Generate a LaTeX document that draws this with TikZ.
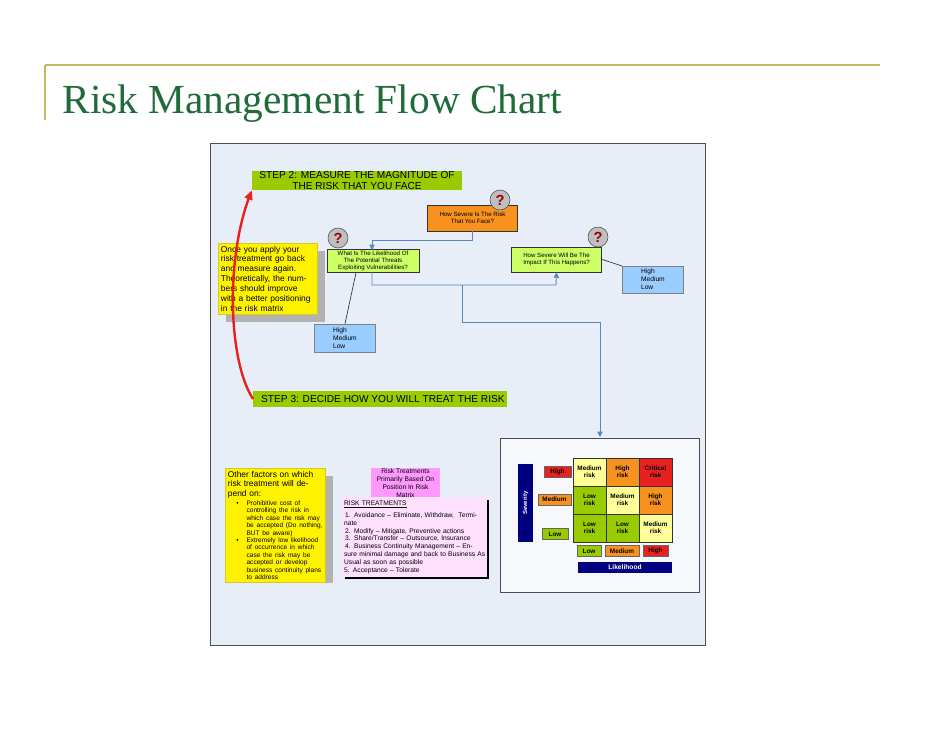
\documentclass[tikz,border=0pt]{standalone}
\usepackage{fontspec}
\setmainfont{Liberation Sans}
\newfontfamily\titlefont{Liberation Serif}
\usetikzlibrary{arrows.meta}
\definecolor{panel}{HTML}{E8EEF7}
\definecolor{lgreen}{HTML}{99CC00}
\definecolor{lgreenb}{HTML}{CCFF66}
\definecolor{orng}{HTML}{F7921E}
\definecolor{rred}{HTML}{E82020}
\definecolor{cyel}{HTML}{FFFF99}
\definecolor{lblue}{HTML}{99CCFF}
\definecolor{pinkh}{HTML}{FF99FF}
\definecolor{pinkl}{HTML}{FFE0FF}
\definecolor{navy}{HTML}{000080}
\definecolor{gold}{HTML}{C8B560}
\definecolor{tgreen}{HTML}{1F6B3A}
\definecolor{conn}{HTML}{5B85C0}
\begin{document}
\begin{tikzpicture}[x=0.75pt,y=-0.75pt,
  box/.style={draw=black!80,line width=0.6pt,inner sep=1pt,align=center,font=\fontsize{4.6}{5.4}\selectfont},
  stepbox/.style={fill=lgreen,inner sep=0pt,align=center,font=\fontsize{7.6}{8.6}\selectfont},
  qmark/.style={circle,draw=black!70,fill=black!25,minimum size=15pt,inner sep=0pt,font=\bfseries\fontsize{11}{11}\selectfont,text=red!60!black},
  hml/.style={draw=black!50,fill=lblue,align=left,anchor=north west,inner sep=1.5pt,font=\fontsize{5}{6}\selectfont},
  cell/.style={draw=black!80,line width=0.6pt,minimum width=24.75pt,minimum height=21pt,inner sep=0pt,align=center,font=\fontsize{4.8}{5.4}\selectfont},
  lab/.style={draw=black!60,minimum height=8.5pt,inner sep=0pt,font=\bfseries\fontsize{4.8}{5}\selectfont},
  cn/.style={conn,line width=0.7pt},
  ca/.style={conn,line width=0.7pt,-{Triangle[length=4pt,width=4pt]}}]
\useasboundingbox (0,0) rectangle (942,728);
\fill[white] (0,0) rectangle (942,728);
% header
\draw[gold,line width=0.8pt] (45,65) -- (880,65);
\draw[gold,line width=0.8pt] (45,65) -- (45,120);
\node[anchor=west,text=tgreen,font=\titlefont\fontsize{31}{31}\selectfont] (title) at (58,104) {Risk Management Flow Chart};
% panel
\draw[black!70,fill=panel] (210,143) rectangle (705,645);
% step boxes
\node[stepbox,minimum width=157.5pt,minimum height=14.25pt] (s2) at (357,180.5) {STEP 2: MEASURE THE MAGNITUDE OF\\THE RISK THAT YOU FACE};
\node[stepbox,minimum width=190.5pt,minimum height=12pt,anchor=west] (s3) at (253,399) {\hspace{4pt}STEP 3: DECIDE HOW YOU WILL TREAT THE RISK};
% yellow note 1
\fill[black!30] (226,251) rectangle (325,322);
\node[fill=yellow,draw=yellow!80!black,anchor=north west,minimum width=74pt,minimum height=53pt,text width=70pt,inner sep=2pt,align=left,font=\fontsize{6.3}{7.4}\selectfont] (y1) at (218,243) {Once you apply your risk treatment go back and measure again. Theoretically, the numbers should improve with a better positioning in the risk matrix};
% red arc
\draw[rred,line width=1.8pt,-{Triangle[length=7pt,width=6pt]}] (s3.west) .. controls (228,360) and (226,260) .. (s2.south west);
% question boxes
\node[box,fill=orng,minimum width=68pt,minimum height=19.5pt] (sev) at (472.5,218) {How Severe Is The Risk\\That You Face?};
\node[box,fill=lgreenb,minimum width=69pt,minimum height=16.5pt] (lik) at (373,261) {What Is The Likelihood Of\\The Potential Threats\\Exploiting Vulnerabilities?};
\node[box,fill=lgreenb,minimum width=68pt,minimum height=18.75pt] (imp) at (556.5,259.5) {How Severe Will Be The\\Impact If This Happens?};
\node[qmark] (q1) at (500,200) {?};
\node[qmark] (q2) at (338,238) {?};
\node[qmark] (q3) at (598,237) {?};
% HML
\node[hml,minimum width=46pt,minimum height=20pt] (h2) at (622,266) {High\\Medium\\Low};
\node[hml,minimum width=46pt,minimum height=21pt] (h1) at (314,324) {High\\Medium\\Low};
\draw[black!80,line width=0.5pt] (lik.south) ++(-17,0) coordinate (lb) -- (h1.north) ++(0,0);
\draw[black!80,line width=0.5pt] (imp.east) -- (h2.north west);
% connectors
\coordinate (c1) at (472,240);
\coordinate (c2) at (372,240);
\draw[ca] (sev.south) |- (c2) -- (372,250);
\coordinate (c3) at (372,285);
\draw[ca] (372,272) -- (c3) -- (556,285) -- (imp.south);
\coordinate (c4) at (462,285);
\coordinate (c5) at (600,322);
\coordinate (mtop) at (600,437);
\draw[ca] (c4) |- (c5) -- (mtop);
% matrix frame
\draw[black!70,fill=panel!40!white] (500,438) rectangle (699,592);
\node[fill=navy,minimum width=11.25pt,minimum height=58.5pt,inner sep=0pt] (sevbar) at (525.5,503) {};
\node[rotate=90,text=white,font=\bfseries\fontsize{4.5}{5}\selectfont] (sevt) at (sevbar) {Severity};
\node[fill=navy,minimum width=70.5pt,minimum height=8.25pt,inner sep=0pt,text=white,font=\bfseries\fontsize{5}{5}\selectfont] (likbar) at (625,567.5) {Likelihood};
% cells
\node[cell,fill=cyel] (m11) at (589.5,472) {\textbf{Medium}\\\textbf{risk}};
\node[cell,fill=orng] (m12) at (622.5,472) {\textbf{High}\\\textbf{risk}};
\node[cell,fill=rred] (m13) at (655.5,472) {\textbf{Critical}\\\textbf{risk}};
\node[cell,fill=lgreen] (m21) at (589.5,500) {\textbf{Low}\\\textbf{risk}};
\node[cell,fill=cyel] (m22) at (622.5,500) {\textbf{Medium}\\\textbf{risk}};
\node[cell,fill=orng] (m23) at (655.5,500) {\textbf{High}\\\textbf{risk}};
\node[cell,fill=lgreen] (m31) at (589.5,528) {\textbf{Low}\\\textbf{risk}};
\node[cell,fill=lgreen] (m32) at (622.5,528) {\textbf{Low}\\\textbf{risk}};
\node[cell,fill=cyel] (m33) at (655.5,528) {\textbf{Medium}\\\textbf{risk}};
\node[lab,fill=rred,minimum width=20pt] (rh) at (557.5,471.5) {High};
\node[lab,fill=orng,minimum width=25pt] (rm) at (554.5,499.5) {Medium};
\node[lab,fill=lgreen,minimum width=19.5pt] (rl) at (555,534) {Low};
\node[lab,fill=lgreen,minimum width=18pt] (cl) at (589,551) {Low};
\node[lab,fill=orng,minimum width=25.5pt] (cm) at (622,551) {Medium};
\node[lab,fill=rred,minimum width=19pt] (ch) at (655.5,551) {High};
% yellow note 2
\fill[black!30] (233,476) rectangle (333,583);
\node[fill=yellow,draw=yellow!80!black,anchor=north west,minimum width=75pt,minimum height=80pt,text width=71pt,inner sep=2pt,align=left,font=\fontsize{6.3}{7.2}\selectfont] (y2) at (225,468) {Other factors on which risk treatment will depend on:\\[-0.5pt]
{\fontsize{4.9}{5.6}\selectfont
\begin{minipage}[t]{71pt}\raggedright
\begin{list}{\textbullet}{\leftmargin=14pt\labelwidth=10pt\labelsep=6pt\itemsep=0pt\parsep=0pt\topsep=0pt}
\item Prohibitive cost of controlling the risk in which case the risk may be accepted (Do nothing, BUT be aware)
\item Extremely low likelihood of occurrence in which case the risk may be accepted or develop business continuity plans to address
\end{list}\end{minipage}}};
% pink
\node[fill=pinkh,minimum width=51.75pt,minimum height=22.5pt,inner sep=0pt,align=center,font=\fontsize{5}{6}\selectfont] (ph) at (405.5,483) {Risk Treatments\\Primarily Based On\\Position In Risk\\Matrix};
\fill[black] (345,500) rectangle (489,579);
\node[fill=pinkl,anchor=north west,minimum width=108.75pt,minimum height=60pt,text width=106pt,inner sep=1pt,align=left,font=\fontsize{5}{5.9}\selectfont] (pt) at (342,497) {\underline{RISK TREATMENTS}\\[3pt]
\,1. Avoidance -- Eliminate, Withdraw,\ \ Terminate\\
\,2. Modify -- Mitigate, Preventive actions\\
\,3. Share/Transfer -- Outsource, Insurance\\
\,4. Business Continuity Management -- Ensure minimal damage and back to Business As Usual as soon as possible\\
5. Acceptance -- Tolerate};
\end{tikzpicture}
\end{document}
